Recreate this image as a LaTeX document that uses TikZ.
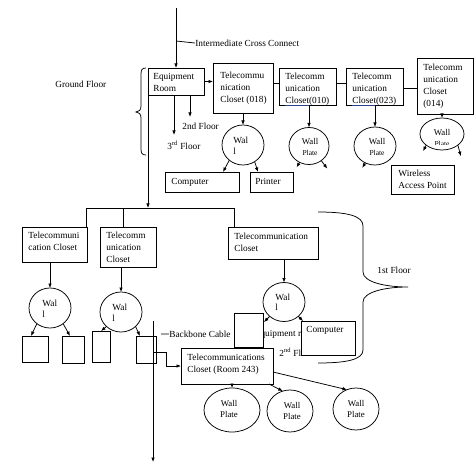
\documentclass[tikz,border=0pt]{standalone}
\usepackage{fontspec}
\setmainfont{Liberation Serif}
\usetikzlibrary{shapes.geometric,arrows.meta,calc}
\definecolor{ulblue}{HTML}{2B3F8A}
\newcommand\ulc[1]{\textcolor{ulblue}{\underline{\textcolor{black}{#1}}}}
\newcommand\mkbox[5]{\node[bx,minimum width={#4-#2},minimum height={#5-#3}] (#1) at ({(#2+#4)/2},{(#3+#5)/2}) {};}
\begin{document}
\begin{tikzpicture}[x=1pt,y=-1pt,line width=0.75pt,
  bx/.style={draw,fill=white,inner sep=0pt,outer sep=0pt},
  el/.style={draw,ellipse,fill=white,inner sep=0pt,outer sep=0pt},
  tx/.style={inner sep=0pt,anchor=north west,align=left,font=\fontsize{9.3}{12}\selectfont},
  lb/.style={inner sep=0pt,anchor=base west,font=\fontsize{9.3}{12}\selectfont},
  wp/.style={inner sep=0pt,align=center,font=\fontsize{8.8}{11.5}\selectfont},
  arr/.style={-{Latex[length=4.5pt,width=3.6pt]}}]
\useasboundingbox (0,0) rectangle (474,473);

% text partly hidden behind boxes
\begin{scope}
\clip (263,318) rectangle (301,362);
\node[lb] (eqr) at (254.5,336.2) {Equipment room};
\node[lb] (f2b) at (279,356.2) {2\textsuperscript{nd} Floor};
\end{scope}

% boxes
\mkbox{eq}{148}{68}{204}{95}
\mkbox{c018}{213}{63}{273}{113}
\mkbox{c010}{279}{68}{336}{105}
\mkbox{c023}{346}{68}{403}{105}
\mkbox{c014}{417}{58}{473}{114}
\mkbox{comp1}{165}{172}{239}{192}
\mkbox{prn}{250}{172}{293}{192}
\mkbox{wap}{391}{165}{454}{194}
\mkbox{c1}{22}{227}{87}{262}
\mkbox{c2}{100}{227}{156}{267}
\mkbox{c3}{228}{227}{318}{259}
\mkbox{s1}{22}{336}{48}{362}
\mkbox{s2}{62}{336}{84}{363}
\mkbox{s3}{92}{331}{110}{362}
\mkbox{s4}{136}{336}{156}{363}
\mkbox{blank}{234}{313}{263}{347}
\mkbox{comp2}{301}{321}{355}{355}
\mkbox{r243}{181}{348}{273}{384}

% ellipses
\node[el,minimum width=42pt,minimum height=40pt] (w018) at (243,145) {};
\node[el,minimum width=40pt,minimum height=37pt] (w010) at (309,146) {};
\node[el,minimum width=42pt,minimum height=38pt] (w023) at (375,146) {};
\node[el,minimum width=44pt,minimum height=32pt] (w014) at (442,134) {};
\node[el,minimum width=42pt,minimum height=40pt] (w1) at (50,308) {};
\node[el,minimum width=42pt,minimum height=40pt] (w2) at (121,312) {};
\node[el,minimum width=42pt,minimum height=39pt] (w3) at (284,302) {};
\node[el,minimum width=56pt,minimum height=44pt] (e1) at (232,410) {};
\node[el,minimum width=46pt,minimum height=42pt] (e2) at (290,411) {};
\node[el,minimum width=46pt,minimum height=42pt] (e3) at (356,409) {};

% box texts
\node[tx] (eqT) at (153,72.5) {Equipment\\Room};
\node[tx] (c018T) at (220,71.5) {Telecommu\\nication\\Closet (018)};
\node[tx] (c010T) at (285,72.5) {Telecomm\\unication\\\ulc{Closet}(010)};
\node[tx] (c023T) at (352,72.5) {Telecomm\\unication\\\ulc{Closet}(023)};
\node[tx] (c014T) at (423,63.5) {Telecomm\\unication\\Closet\\(014)};
\node[tx] (comp1T) at (171,177.5) {Computer};
\node[tx] (prnT) at (255,177.5) {Printer};
\node[tx] (wapT) at (398,169.5) {Wireless\\Access Point};
\node[tx] (c1T) at (28,231.5) {Telecommuni\\cation Closet};
\node[tx] (c2T) at (106,231.5) {Telecomm\\unication\\Closet};
\node[tx] (c3T) at (234,232.5) {Telecommunication\\Closet};
\node[tx] (r243T) at (187,353.5) {Telecommunications\\Closet (Room 243)};
\node[tx] (comp2T) at (306,325.5) {Computer};
\node[tx,font=\fontsize{9.3}{11.5}\selectfont] (w018T) at (233,136.5) {Wal\\l};
\node[tx,font=\fontsize{9.3}{11.5}\selectfont] (w1T) at (42,299.5) {Wal\\l};
\node[tx,font=\fontsize{9.3}{11.5}\selectfont] (w2T) at (112,303.5) {Wal\\l};
\node[tx,font=\fontsize{9.3}{10.5}\selectfont] (w3T) at (275,293.5) {Wal\\l};
\node[wp] (w010T) at (310,147) {Wall\\{\fontsize{7.5}{9}\selectfont Plate}};
\node[wp] (w023T) at (377,147) {Wall\\{\fontsize{7.5}{9}\selectfont Plate}};
\begin{scope}
\clip (420,118) rectangle (464,144.5);
\node[wp] (w014T) at (442,138) {Wall\\{\fontsize{7.5}{9}\selectfont Plate}};
\end{scope}
\node[wp] (e1T) at (229,409) {Wall\\Plate};
\node[wp] (e2T) at (292,411) {Wall\\Plate};
\node[wp] (e3T) at (356,409) {Wall\\Plate};

% labels
\node[lb] (icc) at (195,46.2) {Intermediate Cross Connect};
\node[lb] (gf) at (55,87.2) {Ground Floor};
\node[lb] (f2lab) at (182,129.2) {2nd Floor};
\node[lb] (f3lab) at (167,149.2) {3\textsuperscript{rd} Floor};
\node[lb] (f1lab) at (377,273.2) {1st Floor};
\node[lb] (bbl) at (169,337.2) {Backbone Cable};

% coordinates
\coordinate (topin) at (176,8);
\coordinate (icca) at (176,41);
\coordinate (busL) at (86,208);
\coordinate (busM) at (123,208);
\coordinate (busR) at (234,208);
\coordinate (f2a) at (190,117);
\coordinate (f3a) at (174,135);
\coordinate (bbT) at (153,321);
\coordinate (bbB) at (153,462);
\coordinate (bbJ) at (153,352);
\coordinate (bbK) at (166,352);
\coordinate (bblA) at (161,334);

% connectors
\draw[arr] (topin) -- (eq.north);
\draw (icca) -- (icc.west);
\draw[arr] (eq.east) -- (eq.east -| c018.west);
\draw (c018.east |- 0,83) -- (c010.west |- 0,83);
\draw (c010.east |- 0,83) -- (c023.west |- 0,83);
\draw (c023.east |- 0,88) -- (c014.west |- 0,88);
\draw[arr] (eq.south -| f2a) -- (f2a);
\draw[arr] (eq.south -| f3a) -- (f3a);
\draw[arr] (eq.south west) -- (eq.south west |- busL);
\draw (busL |- c1.north) -- (busL) -- (busR) -- (busR |- c3.north);
\draw (busM) -- (busM |- c2.north);

\draw[arr] (w018.north |- c018.south) -- (w018.north);
\draw[arr] (w018.228) -- ($(comp1.north east)+(-16,0)$);
\draw[arr] (w018.305) -- ($(prn.north west)+(8,0)$);
\draw[arr] (w010.north |- c010.south) -- (w010.north);
\draw[arr] (w010.240) -- ++(-3,5);
\draw[arr] (w010.310) -- ++(6,8);
\draw[arr] (w023.north |- c023.south) -- (w023.north);
\draw[arr] (w023.240) -- ++(-3,5);
\draw[arr] (w014.north |- c014.south) -- (w014.north);
\draw[arr] (w014.215) -- ++(-3,6);
\draw[arr] (w014.325) -- ++(3,11);

\draw[arr] (w1.north |- c1.south) -- (w1.north);
\draw[arr] (w1.230) -- ($(s1.north west)+(9,0)$);
\draw[arr] (w1.310) -- ($(s2.north west)+(8,0)$);
\draw[arr] (w2.north |- c2.south) -- (w2.north);
\draw[arr] (w2.225) -- ($(s3.north west)+(9,0)$);
\draw[arr] (w2.315) -- ($(s4.north west)+(4,0)$);
\draw[arr] (w3.north |- c3.south) -- (w3.north);
\draw[arr] (w3.225) -- ($(blank.north east)+(1,9)$);
\draw[arr] (w3.315) -- ($(comp2.north west)+(2,0)$);

\draw[arr] (bbT) -- (bbB);
\draw (bblA) -- (bbl.west);
\draw[arr] (bbJ) -- (bbK) |- (r243.west);
\draw[arr] (r243.south -| e1.north) -- (e1.north);
\draw[arr] ($(r243.south east)+(-4,0)$) -- (e2.110);
\draw[arr] ($(r243.south east)+(0,-12)$) -- (e3.115);

% braces
\draw (146,68) .. controls (142,68) and (141,70) .. (141,74) -- (141,106)
  .. controls (141,110) and (139,112) .. (136,112)
  .. controls (139,112) and (141,114) .. (141,118) -- (141,149)
  .. controls (141,153) and (142,155) .. (146,155);
\draw (318,212) .. controls (348,212) and (363,216) .. (363,226) -- (363,272)
  .. controls (363,282) and (385,287) .. (408,287)
  .. controls (385,287) and (363,292) .. (363,302) -- (363,350)
  .. controls (363,360) and (345,363) .. (318,363);
\end{tikzpicture}
\end{document}
